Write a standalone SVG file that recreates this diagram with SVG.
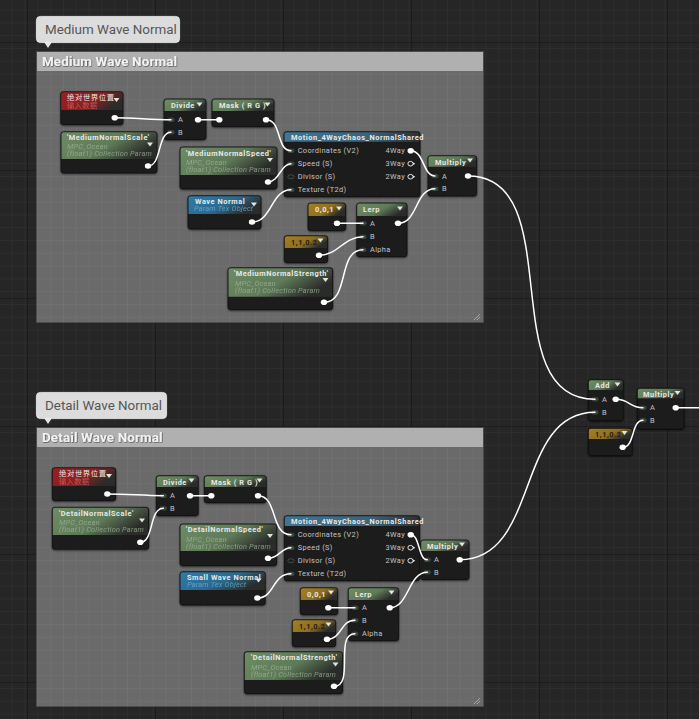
<svg xmlns="http://www.w3.org/2000/svg" width="699" height="719" viewBox="0 0 699 719">
<style>
text{font-family:Roboto,"Liberation Sans","Noto Sans CJK SC",sans-serif}
.bg{fill:#262626}
.comment{fill:#6a6a6a;stroke:#4e4e4e;stroke-width:.8}
.band{fill:#b0b0b0}
.ctitle{font-size:13.4px;font-weight:700;fill:#f2f2f2;filter:url(#ts);letter-spacing:.15px}
.bubble{fill:#dcdcdc;stroke:#f2f2f2;stroke-width:.8}
.btext{font-size:13.4px;fill:#565656}
.body{fill:#1c1e1c;stroke:#0c0c0c;stroke-width:.7;filter:url(#ds)}
.ht{font-size:7.4px;font-weight:700;fill:#e8e8e8;letter-spacing:.55px}
.sub{font-size:7.4px;font-style:italic;fill:#9fb69a;opacity:.75;letter-spacing:.2px}
.lbl{font-size:7.4px;fill:#c4c4c4;letter-spacing:.35px}
.wire{fill:none;stroke:#fff;stroke-width:1.5;stroke-linecap:round}
.in{fill:#3b463b}
.hollow{fill:#1c1e1c;stroke:#4a554a;stroke-width:.8}
.out{fill:#fff}
.hout{fill:none;stroke:#e8e8e8;stroke-width:1}
.tri{fill:#dfe5df}
.tip{fill:#e4e4e4}
</style>
<defs>
<pattern id="minor" width="12.8" height="12.8" patternUnits="userSpaceOnUse" x="-1" y="-3.2">
<path d="M12.8 0H0V12.8" fill="none" stroke="#333" stroke-width="1"/>
</pattern>
<pattern id="major" width="128" height="128" patternUnits="userSpaceOnUse" x="27" y="42">
<path d="M128 0H0V128" fill="none" stroke="#131313" stroke-width="1.2"/>
</pattern>
<pattern id="cminor" width="12.8" height="12.8" patternUnits="userSpaceOnUse" x="-1" y="-3.2">
<path d="M12.8 0H0V12.8" fill="none" stroke="#767676" stroke-width="1"/>
</pattern>
<linearGradient id="gg" x1="0" y1="0" x2="1" y2=".45"><stop offset="0" stop-color="#6d8c64"/><stop offset=".6" stop-color="#5f7a58"/><stop offset="1" stop-color="#2a2c2a"/></linearGradient>
<linearGradient id="gr" x1="0" y1="0" x2="1" y2=".45"><stop offset="0" stop-color="#9a1f1f"/><stop offset=".6" stop-color="#8a2020"/><stop offset="1" stop-color="#2a2c2a"/></linearGradient>
<linearGradient id="gb" x1="0" y1="0" x2="1" y2=".45"><stop offset="0" stop-color="#2f7ba8"/><stop offset=".6" stop-color="#2b6a90"/><stop offset="1" stop-color="#2a2c2a"/></linearGradient>
<linearGradient id="gy" x1="0" y1="0" x2="1" y2=".45"><stop offset="0" stop-color="#a27f22"/><stop offset=".62" stop-color="#8e701f"/><stop offset="1" stop-color="#2a2c2a"/></linearGradient>
<linearGradient id="gm" x1="0" y1="0" x2="1" y2="0"><stop offset="0" stop-color="#3f7596"/><stop offset=".65" stop-color="#3c6278"/><stop offset="1" stop-color="#2c2f30"/></linearGradient>
<filter id="ds" x="-20%" y="-20%" width="140%" height="140%"><feDropShadow dx="0" dy="1" stdDeviation="1.2" flood-color="#000" flood-opacity=".55"/></filter>
<filter id="ts" x="-5%" y="-20%" width="110%" height="140%"><feDropShadow dx=".6" dy=".6" stdDeviation=".3" flood-color="#333" flood-opacity=".9"/></filter>
<path id="t" class="tri" d="M-3-2H3L0 2Z"/>
<ellipse id="pi" class="in" rx="3.6" ry="2.3"/>
<ellipse id="po" class="out" rx="3.2" ry="2.8"/>
</defs>

<rect class="bg" width="699" height="719"/>
<rect width="699" height="719" fill="url(#minor)"/>
<rect width="699" height="719" fill="url(#major)"/>

<g id="comment-medium">
<rect class="comment" x="36.5" y="51.5" width="447" height="271"/>
<rect x="37" y="71" width="446" height="251" fill="url(#cminor)"/>
<rect class="band" x="37" y="52" width="446" height="19"/>
<text class="ctitle" x="42" y="66">Medium Wave Normal</text>
<path d="M474 320l6-6M477 320l3-3" stroke="#b5b5b5" stroke-width=".8"/>
</g>
<g id="bubble-medium">
<path class="tip" d="M44 42h8l-4 6Z"/>
<rect class="bubble" x="36.4" y="16.4" width="143.2" height="26.2" rx="4"/>
<text class="btext" x="45" y="34">Medium Wave Normal</text>
</g>
<g id="comment-detail">
<rect class="comment" x="36.5" y="427.5" width="447" height="279"/>
<rect x="37" y="447" width="446" height="259" fill="url(#cminor)"/>
<rect class="band" x="37" y="428" width="446" height="19"/>
<text class="ctitle" x="42" y="442">Detail Wave Normal</text>
<path d="M474 704l6-6M477 704l3-3" stroke="#b5b5b5" stroke-width=".8"/>
</g>
<g id="bubble-detail">
<path class="tip" d="M44 418h8l-4 6Z"/>
<rect class="bubble" x="36.4" y="392.4" width="130.2" height="26.2" rx="4"/>
<text class="btext" x="45" y="410">Detail Wave Normal</text>
</g>

<g id="n-abs1">
<rect class="body" x="60.7" y="91.7" width="62.3" height="33" rx="2.5"/>
<path fill="url(#gr)" d="M61.2 110V94.2a2 2 0 0 1 2-2H120.5a2 2 0 0 1 2 2V110Z"/>
<text class="ht" x="67" y="99.5" style="font-family:'Noto Sans CJK SC',sans-serif;font-weight:400">绝对世界位置</text>
<text class="sub" x="67" y="107.5" style="font-family:'Noto Sans CJK SC',sans-serif;font-style:normal;fill:#d66">输入数据</text>
<use href="#t" x="116.5" y="100"/><use href="#po" x="114.7" y="117.7"/>
</g>
<g id="n-mscale">
<rect class="body" x="61" y="131.7" width="96" height="41.3" rx="2.5"/>
<path fill="url(#gg)" d="M61.5 159V134.2a2 2 0 0 1 2-2H154.5a2 2 0 0 1 2 2V159Z"/>
<text class="ht" x="67" y="139.8">'MediumNormalScale'</text>
<text class="sub" x="67" y="149">MPC_Ocean</text><text class="sub" x="67" y="156">(float1) Collection Param</text>
<use href="#t" x="150" y="144.5"/><use href="#po" x="148" y="166"/>
</g>
<g id="n-mdiv">
<rect class="body" x="164" y="99" width="42" height="40.7" rx="2.5"/>
<path fill="url(#gg)" d="M164.5 111V101.5a2 2 0 0 1 2-2H203.5a2 2 0 0 1 2 2V111Z"/>
<text class="ht" x="171" y="108">Divide</text>
<use href="#t" x="199.5" y="104.5"/>
<use href="#pi" x="171" y="119.7"/><use href="#pi" x="171" y="132.3"/>
<text class="lbl" x="178" y="122.3">A</text><text class="lbl" x="178" y="135">B</text>
<use href="#po" x="198" y="119.7"/>
</g>
<g id="n-mmask">
<rect class="body" x="212" y="99" width="62" height="27.7" rx="2.5"/>
<path fill="url(#gg)" d="M212.5 111V101.5a2 2 0 0 1 2-2H271.5a2 2 0 0 1 2 2V111Z"/>
<text class="ht" x="219" y="108">Mask ( R G )</text>
<use href="#t" x="267.5" y="104.5"/>
<use href="#po" x="219.3" y="119.7"/><use href="#po" x="266" y="119.7"/>
</g>
<g id="n-mspeed">
<rect class="body" x="180" y="147" width="97" height="42" rx="2.5"/>
<path fill="url(#gg)" d="M180.5 175V149.5a2 2 0 0 1 2-2H274.5a2 2 0 0 1 2 2V175Z"/>
<text class="ht" x="186" y="155.5">'MediumNormalSpeed'</text>
<text class="sub" x="186" y="165">MPC_Ocean</text><text class="sub" x="186" y="172">(float1) Collection Param</text>
<use href="#t" x="270" y="160"/><use href="#po" x="268" y="182"/>
</g>
<g id="n-mwave">
<rect class="body" x="188" y="195.7" width="73" height="33.3" rx="2.5"/>
<path fill="url(#gb)" d="M188.5 214V198.2a2 2 0 0 1 2-2H258.5a2 2 0 0 1 2 2V214Z"/>
<text class="ht" x="195" y="203.5">Wave Normal</text>
<text class="sub" x="194" y="211" style="fill:#6fb2d8">Param Tex Object</text>
<use href="#t" x="254" y="204.5"/><use href="#po" x="252" y="222"/>
</g>
<g id="n-mmotion">
<rect class="body" x="284" y="131.7" width="136" height="65" rx="2.5"/>
<path fill="url(#gm)" d="M284.5 141.7V134.2a2 2 0 0 1 2-2H417.5a2 2 0 0 1 2 2V141.7Z"/>
<text class="ht" x="291" y="140">Motion_4WayChaos_NormalShared</text>
<use href="#pi" x="291" y="150.7"/><use href="#pi" x="291" y="163.7"/><ellipse class="hollow" cx="291" cy="176.7" rx="3.2" ry="2"/><use href="#pi" x="291" y="189.7"/>
<text class="lbl" x="297.7" y="153.3">Coordinates (V2)</text><text class="lbl" x="297.7" y="166.3">Speed (S)</text><text class="lbl" x="297.7" y="179.3">Divisor (S)</text><text class="lbl" x="297.7" y="192.3">Texture (T2d)</text>
<text class="lbl" x="405" y="153.3" text-anchor="end">4Way</text><text class="lbl" x="405" y="166.3" text-anchor="end">3Way</text><text class="lbl" x="405" y="179.3" text-anchor="end">2Way</text>
<use href="#po" x="410.7" y="150.7"/>
<ellipse class="hout" cx="410.5" cy="163.7" rx="2.6" ry="2.3"/><path class="out" d="M413.2 162.4l2 1.3-2 1.3Z"/>
<ellipse class="hout" cx="410.5" cy="176.7" rx="2.6" ry="2.3"/><path class="out" d="M413.2 175.4l2 1.3-2 1.3Z"/>
</g>
<g id="n-mmul">
<rect class="body" x="428" y="155.7" width="48.7" height="40.3" rx="2.5"/>
<path fill="url(#gg)" d="M428.5 166.7V158.2a2 2 0 0 1 2-2H474a2 2 0 0 1 2 2V166.7Z"/>
<text class="ht" x="435" y="164.5">Multiply</text>
<use href="#t" x="470" y="160.5"/>
<use href="#pi" x="435" y="176"/><use href="#pi" x="435" y="188.7"/>
<text class="lbl" x="442" y="178.6">A</text><text class="lbl" x="442" y="191.3">B</text>
<use href="#po" x="468" y="176"/>
</g>
<g id="n-m001">
<rect class="body" x="308" y="203" width="37.7" height="27.7" rx="2.5"/>
<path fill="url(#gy)" d="M308.5 216V205.5a2 2 0 0 1 2-2H343a2 2 0 0 1 2 2V216Z"/>
<text class="ht" x="315" y="212">0,0,1</text>
<use href="#t" x="339" y="208.5"/><use href="#po" x="337" y="223.3"/>
</g>
<g id="n-mlerp">
<rect class="body" x="356.7" y="203" width="50.3" height="53.7" rx="2.5"/>
<path fill="url(#gg)" d="M357.2 216V205.5a2 2 0 0 1 2-2H404.5a2 2 0 0 1 2 2V216Z"/>
<text class="ht" x="363" y="212">Lerp</text>
<use href="#t" x="400" y="208.5"/>
<use href="#pi" x="363" y="223.3"/><use href="#pi" x="363" y="236.7"/><use href="#pi" x="363" y="249.7"/>
<text class="lbl" x="370" y="226">A</text><text class="lbl" x="370" y="239.3">B</text><text class="lbl" x="370" y="252.3">Alpha</text>
<use href="#po" x="398" y="223.3"/>
</g>
<g id="n-m112">
<rect class="body" x="284.3" y="235.7" width="43.4" height="27" rx="2.5"/>
<path fill="url(#gy)" d="M284.8 248V238.2a2 2 0 0 1 2-2H325a2 2 0 0 1 2 2V248Z"/>
<text class="ht" x="291" y="244.5" style="fill:#2a1a1a">1,1,0.2</text>
<use href="#t" x="320.5" y="240.5"/><use href="#po" x="319" y="255.3"/>
</g>
<g id="n-mstr">
<rect class="body" x="228" y="267.7" width="104.7" height="42" rx="2.5"/>
<path fill="url(#gg)" d="M228.5 296.7V270.2a2 2 0 0 1 2-2H330a2 2 0 0 1 2 2V296.7Z"/>
<text class="ht" x="234" y="275.5">'MediumNormalStrength'</text>
<text class="sub" x="235" y="285.5">MPC_Ocean</text><text class="sub" x="235" y="292.5">(float1) Collection Param</text>
<use href="#t" x="325.5" y="280"/><use href="#po" x="324" y="302.3"/>
</g>

<g id="n-abs2">
<rect class="body" x="52.3" y="467.7" width="63.4" height="33" rx="2.5"/>
<path fill="url(#gr)" d="M52.8 486V470.2a2 2 0 0 1 2-2H113a2 2 0 0 1 2 2V486Z"/>
<text class="ht" x="59" y="475.5" style="font-family:'Noto Sans CJK SC',sans-serif;font-weight:400">绝对世界位置</text>
<text class="sub" x="59" y="483.5" style="font-family:'Noto Sans CJK SC',sans-serif;font-style:normal;fill:#d66">输入数据</text>
<use href="#t" x="109" y="476"/><use href="#po" x="107.3" y="494"/>
</g>
<g id="n-dscale">
<rect class="body" x="52.3" y="507.3" width="96.4" height="42" rx="2.5"/>
<path fill="url(#gg)" d="M52.8 535V509.8a2 2 0 0 1 2-2H146a2 2 0 0 1 2 2V535Z"/>
<text class="ht" x="59" y="515.5">'DetailNormalScale'</text>
<text class="sub" x="59" y="525">MPC_Ocean</text><text class="sub" x="59" y="532">(float1) Collection Param</text>
<use href="#t" x="142" y="520.5"/><use href="#po" x="140.3" y="542.3"/>
</g>
<g id="n-ddiv">
<rect class="body" x="156.3" y="475.7" width="42" height="40" rx="2.5"/>
<path fill="url(#gg)" d="M156.8 487V478.2a2 2 0 0 1 2-2H195.8a2 2 0 0 1 2 2V487Z"/>
<text class="ht" x="163" y="484.5">Divide</text>
<use href="#t" x="191.5" y="480.5"/>
<use href="#pi" x="163.3" y="495.7"/><use href="#pi" x="163.3" y="508.3"/>
<text class="lbl" x="170" y="498.3">A</text><text class="lbl" x="170" y="511">B</text>
<use href="#po" x="190" y="495.7"/>
</g>
<g id="n-dmask">
<rect class="body" x="204.3" y="475.7" width="62" height="27" rx="2.5"/>
<path fill="url(#gg)" d="M204.8 487V478.2a2 2 0 0 1 2-2H263.8a2 2 0 0 1 2 2V487Z"/>
<text class="ht" x="211" y="484.5">Mask ( R G )</text>
<use href="#t" x="259.5" y="480.5"/>
<use href="#po" x="211.3" y="495.7"/><use href="#po" x="258" y="495.7"/>
</g>
<g id="n-dspeed">
<rect class="body" x="180" y="524" width="96.7" height="41.7" rx="2.5"/>
<path fill="url(#gg)" d="M180.5 551V526.5a2 2 0 0 1 2-2H274.2a2 2 0 0 1 2 2V551Z"/>
<text class="ht" x="186" y="531.8">'DetailNormalSpeed'</text>
<text class="sub" x="186" y="541.5">MPC_Ocean</text><text class="sub" x="186" y="548.5">(float1) Collection Param</text>
<use href="#t" x="270" y="536"/><use href="#po" x="268" y="558.3"/>
</g>
<g id="n-dwave">
<rect class="body" x="180" y="571.7" width="85.3" height="33.3" rx="2.5"/>
<path fill="url(#gb)" d="M180.5 590V574.2a2 2 0 0 1 2-2H262.8a2 2 0 0 1 2 2V590Z"/>
<text class="ht" x="187" y="579.5">Small Wave Normal</text>
<text class="sub" x="187" y="587" style="fill:#6fb2d8">Param Tex Object</text>
<use href="#t" x="258.5" y="580.5"/><use href="#po" x="257.3" y="598"/>
</g>
<g id="n-dmotion">
<rect class="body" x="284.3" y="515.7" width="135.4" height="65" rx="2.5"/>
<path fill="url(#gm)" d="M284.8 526V518.2a2 2 0 0 1 2-2H417.2a2 2 0 0 1 2 2V526Z"/>
<text class="ht" x="291" y="524">Motion_4WayChaos_NormalShared</text>
<use href="#pi" x="291" y="534.7"/><use href="#pi" x="291" y="547.7"/><ellipse class="hollow" cx="291" cy="560.7" rx="3.2" ry="2"/><use href="#pi" x="291" y="573.7"/>
<text class="lbl" x="297.7" y="537.3">Coordinates (V2)</text><text class="lbl" x="297.7" y="550.3">Speed (S)</text><text class="lbl" x="297.7" y="563.3">Divisor (S)</text><text class="lbl" x="297.7" y="576.3">Texture (T2d)</text>
<text class="lbl" x="405" y="537.3" text-anchor="end">4Way</text><text class="lbl" x="405" y="550.3" text-anchor="end">3Way</text><text class="lbl" x="405" y="563.3" text-anchor="end">2Way</text>
<use href="#po" x="410.7" y="534.7"/>
<ellipse class="hout" cx="410.5" cy="547.7" rx="2.6" ry="2.3"/><path class="out" d="M413.2 546.4l2 1.3-2 1.3Z"/>
<ellipse class="hout" cx="410.5" cy="560.7" rx="2.6" ry="2.3"/><path class="out" d="M413.2 559.4l2 1.3-2 1.3Z"/>
</g>
<g id="n-dmul">
<rect class="body" x="420.7" y="540" width="48.3" height="39.7" rx="2.5"/>
<path fill="url(#gg)" d="M421.2 551V542.5a2 2 0 0 1 2-2H466.5a2 2 0 0 1 2 2V551Z"/>
<text class="ht" x="427" y="548.8">Multiply</text>
<use href="#t" x="462" y="544.5"/>
<use href="#pi" x="427.3" y="559.7"/><use href="#pi" x="427.3" y="572.3"/>
<text class="lbl" x="434" y="562.3">A</text><text class="lbl" x="434" y="575">B</text>
<use href="#po" x="459.7" y="559.7"/>
</g>
<g id="n-d001">
<rect class="body" x="300.3" y="587.7" width="37.4" height="27" rx="2.5"/>
<path fill="url(#gy)" d="M300.8 600V590.2a2 2 0 0 1 2-2H335.2a2 2 0 0 1 2 2V600Z"/>
<text class="ht" x="307" y="596.5">0,0,1</text>
<use href="#t" x="331" y="592.5"/><use href="#po" x="328.3" y="607.7"/>
</g>
<g id="n-dlerp">
<rect class="body" x="348.3" y="587.7" width="50.4" height="53" rx="2.5"/>
<path fill="url(#gg)" d="M348.8 600V590.2a2 2 0 0 1 2-2H396.2a2 2 0 0 1 2 2V600Z"/>
<text class="ht" x="355" y="596.5">Lerp</text>
<use href="#t" x="391.5" y="592.5"/>
<use href="#pi" x="355" y="607.7"/><use href="#pi" x="355" y="620.3"/><use href="#pi" x="355" y="633.7"/>
<text class="lbl" x="362" y="610.3">A</text><text class="lbl" x="362" y="623">B</text><text class="lbl" x="362" y="636.3">Alpha</text>
<use href="#po" x="389.7" y="607.7"/>
</g>
<g id="n-d112">
<rect class="body" x="292.3" y="619.7" width="43.4" height="27" rx="2.5"/>
<path fill="url(#gy)" d="M292.8 632V622.2a2 2 0 0 1 2-2H333.2a2 2 0 0 1 2 2V632Z"/>
<text class="ht" x="299" y="628.5" style="fill:#2a1a1a">1,1,0.2</text>
<use href="#t" x="328.5" y="624.5"/><use href="#po" x="327" y="639.3"/>
</g>
<g id="n-dstr">
<rect class="body" x="244.3" y="651.7" width="98.4" height="42" rx="2.5"/>
<path fill="url(#gg)" d="M244.8 680V654.2a2 2 0 0 1 2-2H340.2a2 2 0 0 1 2 2V680Z"/>
<text class="ht" x="251" y="659.5">'DetailNormalStrength'</text>
<text class="sub" x="251" y="669.5">MPC_Ocean</text><text class="sub" x="251" y="676.5">(float1) Collection Param</text>
<use href="#t" x="335.5" y="664.5"/><use href="#po" x="334" y="686.3"/>
</g>

<g id="n-add">
<rect class="body" x="588.3" y="379.7" width="35" height="41" rx="2.5"/>
<path fill="url(#gg)" d="M588.8 390V382.2a2 2 0 0 1 2-2H620.8a2 2 0 0 1 2 2V390Z"/>
<text class="ht" x="595" y="388">Add</text>
<use href="#t" x="617.5" y="384.5"/>
<use href="#pi" x="595" y="399.3"/><use href="#pi" x="595" y="412.3"/>
<text class="lbl" x="602" y="402">A</text><text class="lbl" x="602" y="415">B</text>
<use href="#po" x="615.7" y="399.3"/>
</g>
<g id="n-fmul">
<rect class="body" x="637.3" y="388.3" width="46.7" height="40.7" rx="2.5"/>
<path fill="url(#gg)" d="M637.8 398.3V390.8a2 2 0 0 1 2-2H681.5a2 2 0 0 1 2 2V398.3Z"/>
<text class="ht" x="643" y="396.5">Multiply</text>
<use href="#t" x="677.5" y="393"/>
<use href="#pi" x="643" y="407.7"/><use href="#pi" x="643" y="420.3"/>
<text class="lbl" x="650" y="410.3">A</text><text class="lbl" x="650" y="423">B</text>
<use href="#po" x="675.7" y="407.7"/>
</g>
<g id="n-f112">
<rect class="body" x="588.3" y="428.3" width="44" height="27.4" rx="2.5"/>
<path fill="url(#gy)" d="M588.8 439V430.8a2 2 0 0 1 2-2H629.8a2 2 0 0 1 2 2V439Z"/>
<text class="ht" x="595" y="436.8" style="fill:#2a1a1a">1,1,0.2</text>
<use href="#t" x="624.5" y="433"/><use href="#po" x="622.7" y="447.3"/>
</g>

<g id="connectors">
<path class="wire" d="M114.7 117.7C135 117.7 150 119.7 171 119.7"/>
<path class="wire" d="M148 166C162 166 157 132.3 171 132.3"/>
<path class="wire" d="M198 119.7H219.3"/>
<path class="wire" d="M266 119.7C282 119.7 276 150.7 291 150.7"/>
<path class="wire" d="M268 182C279 182 281 163.7 291 163.7"/>
<path class="wire" d="M252 222C272 222 271 189.7 291 189.7"/>
<path class="wire" d="M410.7 150.7C424 150.7 423 176 435 176"/>
<path class="wire" d="M337 223.3H363"/>
<path class="wire" d="M398 223.3C418 223.3 415 188.7 435 188.7"/>
<path class="wire" d="M319 255.3C338 255.3 344 236.7 363 236.7"/>
<path class="wire" d="M324 302.3C350 302.3 337 249.7 363 249.7"/>
<path class="wire" d="M468 176C570 176 492 399.3 595 399.3"/>
<path class="wire" d="M107.3 494C128 494 143 495.7 163.3 495.7"/>
<path class="wire" d="M140.3 542.3C154 542.3 149 508.3 163.3 508.3"/>
<path class="wire" d="M190 495.7H211.3"/>
<path class="wire" d="M258 495.7C278 495.7 270 534.7 291 534.7"/>
<path class="wire" d="M268 558.3C279 558.3 281 547.7 291 547.7"/>
<path class="wire" d="M257.3 598C275 598 272 573.7 291 573.7"/>
<path class="wire" d="M410.7 534.7C420 534.7 418 559.7 427.3 559.7"/>
<path class="wire" d="M328.3 607.7H355"/>
<path class="wire" d="M389.7 607.7C409 607.7 408 572.3 427.3 572.3"/>
<path class="wire" d="M327 639.3C342 639.3 340 620.3 355 620.3"/>
<path class="wire" d="M334 686.3C355 686.3 334 633.7 355 633.7"/>
<path class="wire" d="M459.7 559.7C540 559.7 515 412.3 595 412.3"/>
<path class="wire" d="M615.7 399.3C630 399.3 629 407.7 643 407.7"/>
<path class="wire" d="M622.7 447.3C635 447.3 631 420.3 643 420.3"/>
<path class="wire" d="M675.7 407.7H699"/>
</g>
</svg>
